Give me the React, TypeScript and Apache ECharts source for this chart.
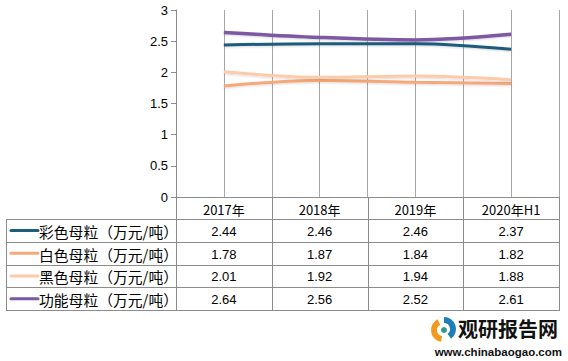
import React, { useEffect, useRef } from "react";
import * as echarts from "echarts";

const categories = ["2017年", "2018年", "2019年", "2020年H1"];
const seriesNames = [
  "彩色母粒（万元/吨）",
  "白色母粒（万元/吨）",
  "黑色母粒（万元/吨）",
  "功能母粒（万元/吨）",
];
const caise = [2.44, 2.46, 2.46, 2.37];
const baise = [1.78, 1.87, 1.84, 1.82];
const heise = [2.01, 1.92, 1.94, 1.88];
const gongneng = [2.64, 2.56, 2.52, 2.61];
const seriesColors = ["#1F5D7D", "#F6A878", "#FCCCAA", "#7B58A5"];

const W = 568;
const H = 361;
const plotLeft = 176;
const plotRight = 559;
const plotTop = 10;
const plotBottom = 197;
const tableLeft = 6;
const headerH = 22;
const rowH = 22.75;
const gridColor = "#A6A6A6";
const tableColor = "#8C8C8C";
const numFont = "Arial, 'Liberation Sans', sans-serif";
const cjkFont = "'Noto Sans CJK SC', 'Liberation Sans', sans-serif";

export default function App() {
  const ref = useRef<HTMLDivElement>(null);
  useEffect(() => {
    if (!ref.current) return;
    const chart = echarts.init(ref.current, null, { renderer: "svg" });
    const allSeries = [caise, baise, heise, gongneng];
    const colW = (plotRight - plotLeft) / categories.length;
    const els: any[] = [];
    const rowTop = (i: number) => plotBottom + headerH + i * rowH;
    const tableBottom = rowTop(allSeries.length);
    const px = (v: number) => Math.round(v) + 0.5;
    const hline = (x1: number, x2: number, y: number) =>
      els.push({
        type: "line",
        shape: { x1, y1: px(y), x2, y2: px(y) },
        style: { stroke: tableColor, lineWidth: 1 },
        silent: true,
      });
    const vline = (x: number, y1: number, y2: number) =>
      els.push({
        type: "line",
        shape: { x1: px(x), y1, x2: px(x), y2 },
        style: { stroke: tableColor, lineWidth: 1 },
        silent: true,
      });
    // header cells
    categories.forEach((c, j) => {
      els.push({
        type: "text",
        x: plotLeft + colW * (j + 0.5),
        y: plotBottom + headerH / 2 + 1,
        style: {
          text: c,
          fill: "#000",
          font: `13px ${cjkFont}`,
          align: "center",
          verticalAlign: "middle",
        },
        silent: true,
      });
    });
    // rows
    allSeries.forEach((arr, i) => {
      const cy = rowTop(i) + rowH / 2;
      els.push({
        type: "line",
        shape: { x1: tableLeft + 5, y1: cy, x2: tableLeft + 32, y2: cy },
        style: { stroke: seriesColors[i], lineWidth: 3, lineCap: "round" },
        silent: true,
      });
      els.push({
        type: "text",
        x: tableLeft + 33,
        y: cy + 1,
        style: {
          text: seriesNames[i],
          fill: "#000",
          font: `14.8px ${cjkFont}`,
          align: "left",
          verticalAlign: "middle",
        },
        silent: true,
      });
      arr.forEach((v, j) => {
        els.push({
          type: "text",
          x: plotLeft + colW * (j + 0.5),
          y: cy + 1,
          style: {
            text: v.toFixed(2),
            fill: "#000",
            font: `13px ${numFont}`,
            align: "center",
            verticalAlign: "middle",
          },
          silent: true,
        });
      });
    });
    // table lines
    for (let i = 0; i <= allSeries.length; i++) hline(tableLeft, plotRight + 1, rowTop(i));
    vline(tableLeft, rowTop(0), tableBottom + 0.5);
    for (let j = 0; j <= categories.length; j++)
      vline(plotLeft + colW * j, plotBottom, tableBottom + 0.5);

    // watermark logo
    els.push({
      type: "arc",
      shape: { cx: 443, cy: 330, r: 9, startAngle: Math.PI * 0.55, endAngle: Math.PI * 1.35 },
      style: { stroke: "#F29A1E", lineWidth: 6, fill: null },
      silent: true,
    });
    els.push({
      type: "arc",
      shape: { cx: 444, cy: 329, r: 9, startAngle: Math.PI * 1.5, endAngle: Math.PI * 2.3 },
      style: { stroke: "#1C7FB8", lineWidth: 6, fill: null },
      silent: true,
    });
    els.push({
      type: "circle",
      shape: { cx: 444, cy: 330, r: 3 },
      style: { fill: "#2A9A8E" },
      silent: true,
    });
    els.push({
      type: "text",
      x: 458,
      y: 328,
      style: {
        text: "观研报告网",
        fill: "#111",
        font: `bold 20px ${cjkFont}`,
        align: "left",
        verticalAlign: "middle",
      },
      silent: true,
    });
    els.push({
      type: "text",
      x: 562,
      y: 352,
      style: {
        text: "www.chinabaogao.com",
        fill: "#111",
        font: `bold 11.5px ${numFont}`,
        align: "right",
        verticalAlign: "middle",
      },
      silent: true,
    });

    chart.setOption({
      animation: false,
      backgroundColor: "#fff",
      grid: {
        left: plotLeft,
        right: W - plotRight,
        top: plotTop,
        bottom: H - plotBottom,
        containLabel: false,
      },
      xAxis: [
        {
          type: "category",
          data: categories,
          boundaryGap: true,
          axisLine: { show: true, lineStyle: { color: tableColor, width: 1 } },
          axisTick: { show: false },
          axisLabel: { show: false },
          splitLine: { show: false },
        },
        {
          type: "value",
          min: 0,
          max: categories.length * 2,
          interval: 1,
          position: "top",
          axisLine: { show: false },
          axisTick: { show: false },
          axisLabel: { show: false },
          splitLine: { show: true, lineStyle: { color: gridColor, width: 1 } },
        },
      ],
      yAxis: {
        type: "value",
        min: 0,
        max: 3,
        interval: 0.5,
        axisLine: { show: true, lineStyle: { color: tableColor, width: 1 } },
        axisTick: { show: true, length: 5, lineStyle: { color: tableColor } },
        axisLabel: {
          color: "#000",
          fontSize: 13,
          fontFamily: numFont,
          margin: 8,
        },
        splitLine: { show: false },
      },
      series: allSeries.map((arr, i) => ({
        name: seriesNames[i],
        type: "line",
        xAxisIndex: 0,
        data: arr,
        smooth: 0.35,
        symbol: "none",
        lineStyle: {
          color: seriesColors[i],
          width: i === 3 ? 3.5 : 3,
          shadowColor: "rgba(0,0,0,0.15)",
          shadowBlur: 2,
          shadowOffsetY: 1,
        },
        z: 3 + i,
      })),
      graphic: els,
    });
    return () => chart.dispose();
  }, []);
  return (
    <div
      ref={ref}
      style={{ position: "fixed", left: 0, top: 0, width: W, height: H, background: "#fff" }}
    />
  );
}
